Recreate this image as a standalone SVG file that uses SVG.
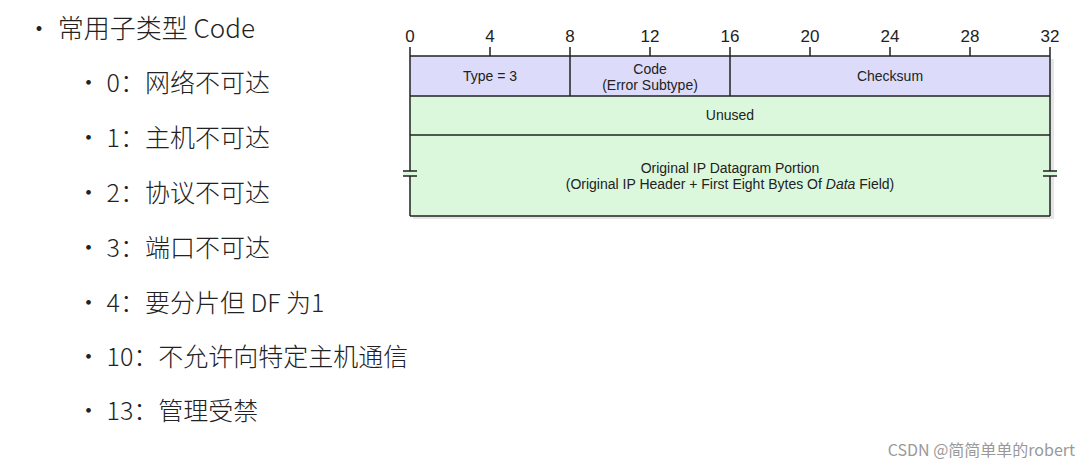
<svg xmlns="http://www.w3.org/2000/svg" width="1090" height="468" viewBox="0 0 1090 468">
<style>
.b{font-family:"Noto Sans CJK SC","Noto Sans",sans-serif;fill:#222;font-weight:300;font-size:25px}
.t{font-family:"Liberation Sans",Arial,sans-serif;font-size:14px;fill:#222;text-anchor:middle}
.n{font-family:"Liberation Sans",Arial,sans-serif;font-size:17px;fill:#222;text-anchor:middle}
.l{stroke:#222;stroke-width:1.5;fill:none}
</style>
<rect width="1090" height="468" fill="#fff"/>
<g id="bullets">
<text class="b" x="26" y="38" style="font-size:26px">• 常用子类型 Code</text>
<text class="b" x="76" y="92">• 0：网络不可达</text>
<text class="b" x="76" y="147">• 1：主机不可达</text>
<text class="b" x="76" y="202">• 2：协议不可达</text>
<text class="b" x="76" y="257">• 3：端口不可达</text>
<text class="b" x="76" y="312">• 4：要分片但 DF 为1</text>
<text class="b" x="76" y="366">• 10：不允许向特定主机通信</text>
<text class="b" x="76" y="420">• 13：管理受禁</text>
</g>
<g id="diagram">
<rect x="413" y="59" width="641" height="160" fill="#ccc" opacity="0.5"/>
<rect x="410" y="56" width="160" height="40" fill="#dcdcfa"/>
<rect x="570" y="56" width="160" height="40" fill="#dcdcfa"/>
<rect x="730" y="56" width="320" height="40" fill="#dcdcfa"/>
<rect x="410" y="96" width="640" height="120" fill="#dcf8dc"/>
<path class="l" d="M410 56H1050M410 96H1050M410 135H1050M410 216H1050M570 56V96M730 56V96M410 56V216M1050 56V216"/>
<path class="l" d="M410 47V56M490 47V56M570 47V56M650 47V56M730 47V56M810 47V56M890 47V56M970 47V56M1050 47V56"/>
<rect x="403" y="171" width="14" height="5" fill="#dcf8dc"/>
<rect x="1043" y="171" width="14" height="5" fill="#dcf8dc"/>
<path class="l" d="M403 171H417M403 176H417M1043 171H1057M1043 176H1057"/>
<text class="n" x="410" y="42">0</text><text class="n" x="490" y="42">4</text><text class="n" x="570" y="42">8</text><text class="n" x="650" y="42">12</text><text class="n" x="730" y="42">16</text><text class="n" x="810" y="42">20</text><text class="n" x="890" y="42">24</text><text class="n" x="970" y="42">28</text><text class="n" x="1050" y="42">32</text>
<text class="t" x="490" y="81">Type = 3</text>
<text class="t" x="650" y="74">Code</text>
<text class="t" x="650" y="90">(Error Subtype)</text>
<text class="t" x="890" y="81">Checksum</text>
<text class="t" x="730" y="120">Unused</text>
<text class="t" x="730" y="173">Original IP Datagram Portion</text>
<text class="t" x="730" y="189">(Original IP Header + First Eight Bytes Of <tspan font-style="italic">Data</tspan> Field)</text>
</g>
<text x="1075" y="456" font-family="Noto Sans CJK SC,sans-serif" font-size="16" fill="#999" text-anchor="end">CSDN @简简单单的robert</text>
</svg>
